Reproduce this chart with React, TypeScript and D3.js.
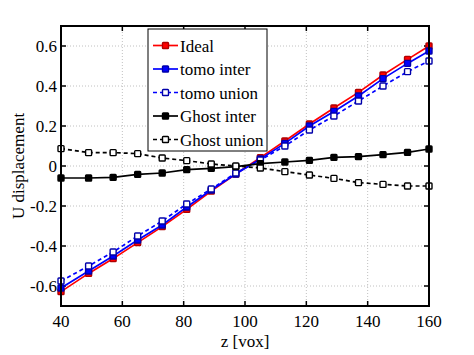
import React from "react";
import * as d3 from "d3";

const zVals = [40, 49, 57, 65, 73, 81, 89, 97, 105, 113, 121, 129, 137, 145, 153, 160];
const ideal = [-0.628, -0.537, -0.463, -0.383, -0.303, -0.217, -0.125, -0.04, 0.042, 0.125, 0.21, 0.29, 0.368, 0.455, 0.533, 0.6];
const tomoInter = [-0.61, -0.525, -0.45, -0.37, -0.295, -0.205, -0.12, -0.04, 0.035, 0.113, 0.2, 0.273, 0.35, 0.437, 0.513, 0.575];
const tomoUnion = [-0.575, -0.5, -0.43, -0.35, -0.275, -0.19, -0.115, -0.035, 0.03, 0.1, 0.18, 0.25, 0.325, 0.4, 0.472, 0.525];
const ghostInter = [-0.06, -0.06, -0.057, -0.042, -0.035, -0.018, -0.012, -0.003, 0.012, 0.02, 0.028, 0.043, 0.047, 0.057, 0.068, 0.085];
const ghostUnion = [0.087, 0.067, 0.067, 0.062, 0.04, 0.027, 0.01, 0.0, -0.01, -0.028, -0.045, -0.062, -0.083, -0.092, -0.1, -0.1];

const xTicks = [40, 60, 80, 100, 120, 140, 160];
const yTicks = [-0.6, -0.4, -0.2, 0, 0.2, 0.4, 0.6];
const yTickLabels = ["-0.6", "-0.4", "-0.2", "0", "0.2", "0.4", "0.6"];

const seriesNames = ["Ideal", "tomo inter", "tomo union", "Ghost inter", "Ghost union"];
const seriesData = [ideal, tomoInter, tomoUnion, ghostInter, ghostUnion];
const seriesColors = ["#ff0000", "#0000ff", "#0000ff", "#000000", "#000000"];
const seriesDash = ["", "", "4,3", "", "4,3"];
const seriesOpen = [false, false, true, false, true];

export default function App() {
  const W = 474, H = 355;
  const L = 61, R = 429, T = 26, B = 306;
  const x = d3.scaleLinear().domain([40, 160]).range([L, R]);
  const y = d3.scaleLinear().domain([-0.7, 0.7]).range([B, T]);
  const line = d3.line<number>().x((_, i) => x(zVals[i])).y((d) => y(d));
  const font = "'Liberation Serif', 'Times New Roman', serif";
  const fs = 17;
  const tick = 5;
  const legX = 148, legY = 29, legW = 119, legH = 122;
  const legRow = (i: number) => 45.5 + i * 23.5;

  const marker = (cx: number, cy: number, i: number, key: string) => (
    <rect key={key} x={cx - 3} y={cy - 3} width={6} height={6} rx={0.8}
      fill={seriesOpen[i] ? "#ffffff" : seriesColors[i]}
      stroke={i === 0 ? "#b00000" : i < 3 ? "#0000aa" : "#000000"} strokeWidth={1.4} />
  );

  return (
    <svg width={W} height={H} style={{ position: "absolute", left: 0, top: 0, background: "#fff" }}>
      <rect x={0} y={0} width={W} height={H} fill="#fff" />
      {xTicks.slice(1, -1).map((t) => (
        <line key={"gx" + t} x1={x(t)} x2={x(t)} y1={T} y2={B} stroke="#b0b0b0" strokeWidth={0.8} strokeDasharray="1,2" />
      ))}
      {yTicks.map((t) => (
        <line key={"gy" + t} x1={L} x2={R} y1={y(t)} y2={y(t)} stroke="#b0b0b0" strokeWidth={0.8} strokeDasharray="1,2" />
      ))}
      {xTicks.map((t) => (
        <g key={"tx" + t}>
          <line x1={x(t)} x2={x(t)} y1={B} y2={B - tick} stroke="#000" strokeWidth={1.5} />
          <line x1={x(t)} x2={x(t)} y1={T} y2={T + tick} stroke="#000" strokeWidth={1.5} />
          <text x={x(t)} y={327} textAnchor="middle" fontFamily={font} fontSize={fs} fill="#000">{t}</text>
        </g>
      ))}
      {yTicks.map((t, i) => (
        <g key={"ty" + t}>
          <line x1={L} x2={L + tick} y1={y(t)} y2={y(t)} stroke="#000" strokeWidth={1.5} />
          <line x1={R} x2={R - tick} y1={y(t)} y2={y(t)} stroke="#000" strokeWidth={1.5} />
          <text x={57} y={y(t) + 6} textAnchor="end" fontFamily={font} fontSize={fs} fill="#000">{yTickLabels[i]}</text>
        </g>
      ))}
      {seriesData.map((d, i) => (
        <g key={"s" + i}>
          <path d={line(d) || ""} fill="none" stroke={seriesColors[i]} strokeWidth={1.7} strokeDasharray={seriesDash[i]} />
          {d.map((v, j) => marker(x(zVals[j]), y(v), i, "m" + i + "-" + j))}
        </g>
      ))}
      <rect x={L} y={T} width={R - L} height={B - T} fill="none" stroke="#000" strokeWidth={2} />
      <rect x={legX} y={legY} width={legW} height={legH} fill="#fff" stroke="#000" strokeWidth={1} />
      {seriesNames.map((n, i) => (
        <g key={"l" + i}>
          <line x1={153} x2={178} y1={legRow(i)} y2={legRow(i)} stroke={seriesColors[i]} strokeWidth={1.7} strokeDasharray={seriesDash[i]} />
          {marker(165.5, legRow(i), i, "lm" + i)}
          <text x={180} y={legRow(i) + 6} fontFamily={font} fontSize={fs} fill="#000">{n}</text>
        </g>
      ))}
      <text x={245} y={347} textAnchor="middle" fontFamily={font} fontSize={fs} fill="#000">z [vox]</text>
      <text transform={`translate(24,166) rotate(-90)`} textAnchor="middle" fontFamily={font} fontSize={fs} fill="#000">U displacement</text>
    </svg>
  );
}
